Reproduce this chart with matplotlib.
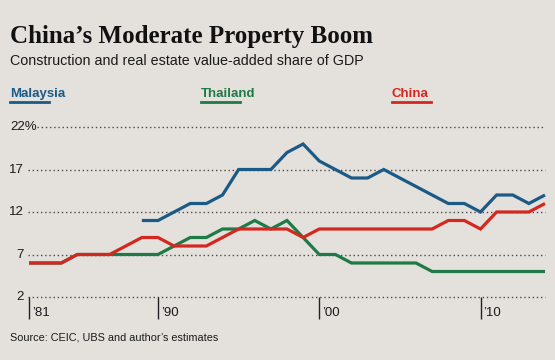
import matplotlib
matplotlib.use("Agg")
import matplotlib.pyplot as plt
from matplotlib.lines import Line2D
from matplotlib.transforms import offset_copy, blended_transform_factory

# data (share of GDP, %)
years = list(range(1982, 2015))
malaysia = [None] * 7 + [11, 11, 12, 13, 13, 14, 17, 17, 17, 19, 20, 18, 17,
                         16, 16, 17, 16, 15, 14, 13, 13, 12, 14, 14, 13, 14]
thailand = [6, 6, 6, 7, 7, 7, 7, 7, 7, 8, 9, 9, 10, 10, 11, 10, 11, 9, 7, 7,
            6, 6, 6, 6, 6, 5, 5, 5, 5, 5, 5, 5, 5]
china = [6, 6, 6, 7, 7, 7, 8, 9, 9, 8, 8, 8, 9, 10, 10, 10, 10, 9, 10, 10,
         10, 10, 10, 10, 10, 10, 11, 11, 10, 12, 12, 12, 13]

y_ticks = [2, 7, 12, 17, 22]
y_labels = ["2", "7", "12", "17", "22%"]
x_ticks = [1982, 1990, 2000, 2010]
x_labels = ["\u201981", "\u201990", "\u201900", "\u201910"]

BG = "#e4e1dd"
BLUE = "#1b5a86"
GREEN = "#1f7a45"
RED = "#d3281f"
W, H = 555, 360

fig = plt.figure(figsize=(W / 100, H / 100), dpi=100, facecolor=BG)
ax = fig.add_axes([29 / W, (H - 297) / H, 516 / W, 170 / H])
ax.set_facecolor(BG)
ax.set_xlim(years[0], years[-1])
ax.set_ylim(2, 22)
for s in ax.spines.values():
    s.set_visible(False)

# dotted grid
for v in y_ticks:
    x0 = (37 - 29) / 516 if v == 22 else -1 / 516
    ax.axhline(v, xmin=x0, xmax=1.0, color="#4a4a4a", lw=1.0,
               ls=(0, (1, 2)), zorder=1, clip_on=False)

def series(vals):
    xs = [x for x, v in zip(years, vals) if v is not None]
    ys = [v for v in vals if v is not None]
    return xs, ys

for vals, col in [(thailand, GREEN), (malaysia, BLUE), (china, RED)]:
    xs, ys = series(vals)
    ax.plot(xs, ys, color=col, lw=2.3, solid_joinstyle="miter",
            solid_capstyle="butt", zorder=3, clip_on=False)

# x ticks hanging below the bottom gridline
ax.set_xticks(x_ticks)
ax.set_xticklabels([])
ax.tick_params(axis="x", direction="out", length=15.5, width=1.0,
               color="#222222", pad=0)
ax.set_yticks([])
lab_tr = offset_copy(ax.get_xaxis_transform(), fig=fig, x=2, y=-11.5,
                     units="points")
for xt, lb in zip(x_ticks, x_labels):
    ax.text(xt, 0, lb, transform=lab_tr, ha="left", va="center",
            fontsize=9.5, family="Liberation Sans", color="#1a1a1a")

# y labels, numbers right-aligned, the % hangs out
ytr = blended_transform_factory(fig.transFigure, ax.transData)
for v, lb in zip(y_ticks, y_labels):
    if lb.endswith("%"):
        fig.text(10 / W, v, lb, transform=ytr, ha="left", va="center",
                 fontsize=9.5, family="Liberation Sans", color="#1a1a1a")
    else:
        fig.text(24 / W, v, lb, transform=ytr, ha="right", va="center",
                 fontsize=9.5, family="Liberation Sans", color="#1a1a1a")

# titles
fig.text(10 / W, (H - 43) / H, "China\u2019s Moderate Property Boom",
         fontsize=18, fontweight="bold", family="Liberation Serif",
         va="baseline", ha="left", color="#111111")
fig.text(10 / W, (H - 65) / H,
         "Construction and real estate value-added share of GDP",
         fontsize=10.3, family="Liberation Sans", va="baseline", ha="left",
         color="#1a1a1a")

# legend labels with underlines
for name, col, x in [("Malaysia", BLUE, 10), ("Thailand", GREEN, 201),
                     ("China", RED, 392)]:
    fig.text(x / W, (H - 97) / H, name, fontsize=9.5, fontweight="bold",
             family="Liberation Sans", color=col, va="baseline", ha="left")
    fig.add_artist(Line2D([x / W, (x + 39) / W], [(H - 102) / H] * 2,
                          color=col, lw=2.0, transform=fig.transFigure))

fig.text(10 / W, (H - 340) / H, "Source: CEIC, UBS and author\u2019s estimates",
         fontsize=7.8, family="Liberation Sans", va="baseline", ha="left",
         color="#1a1a1a")

fig.savefig("out.png", dpi=100, facecolor=BG)
